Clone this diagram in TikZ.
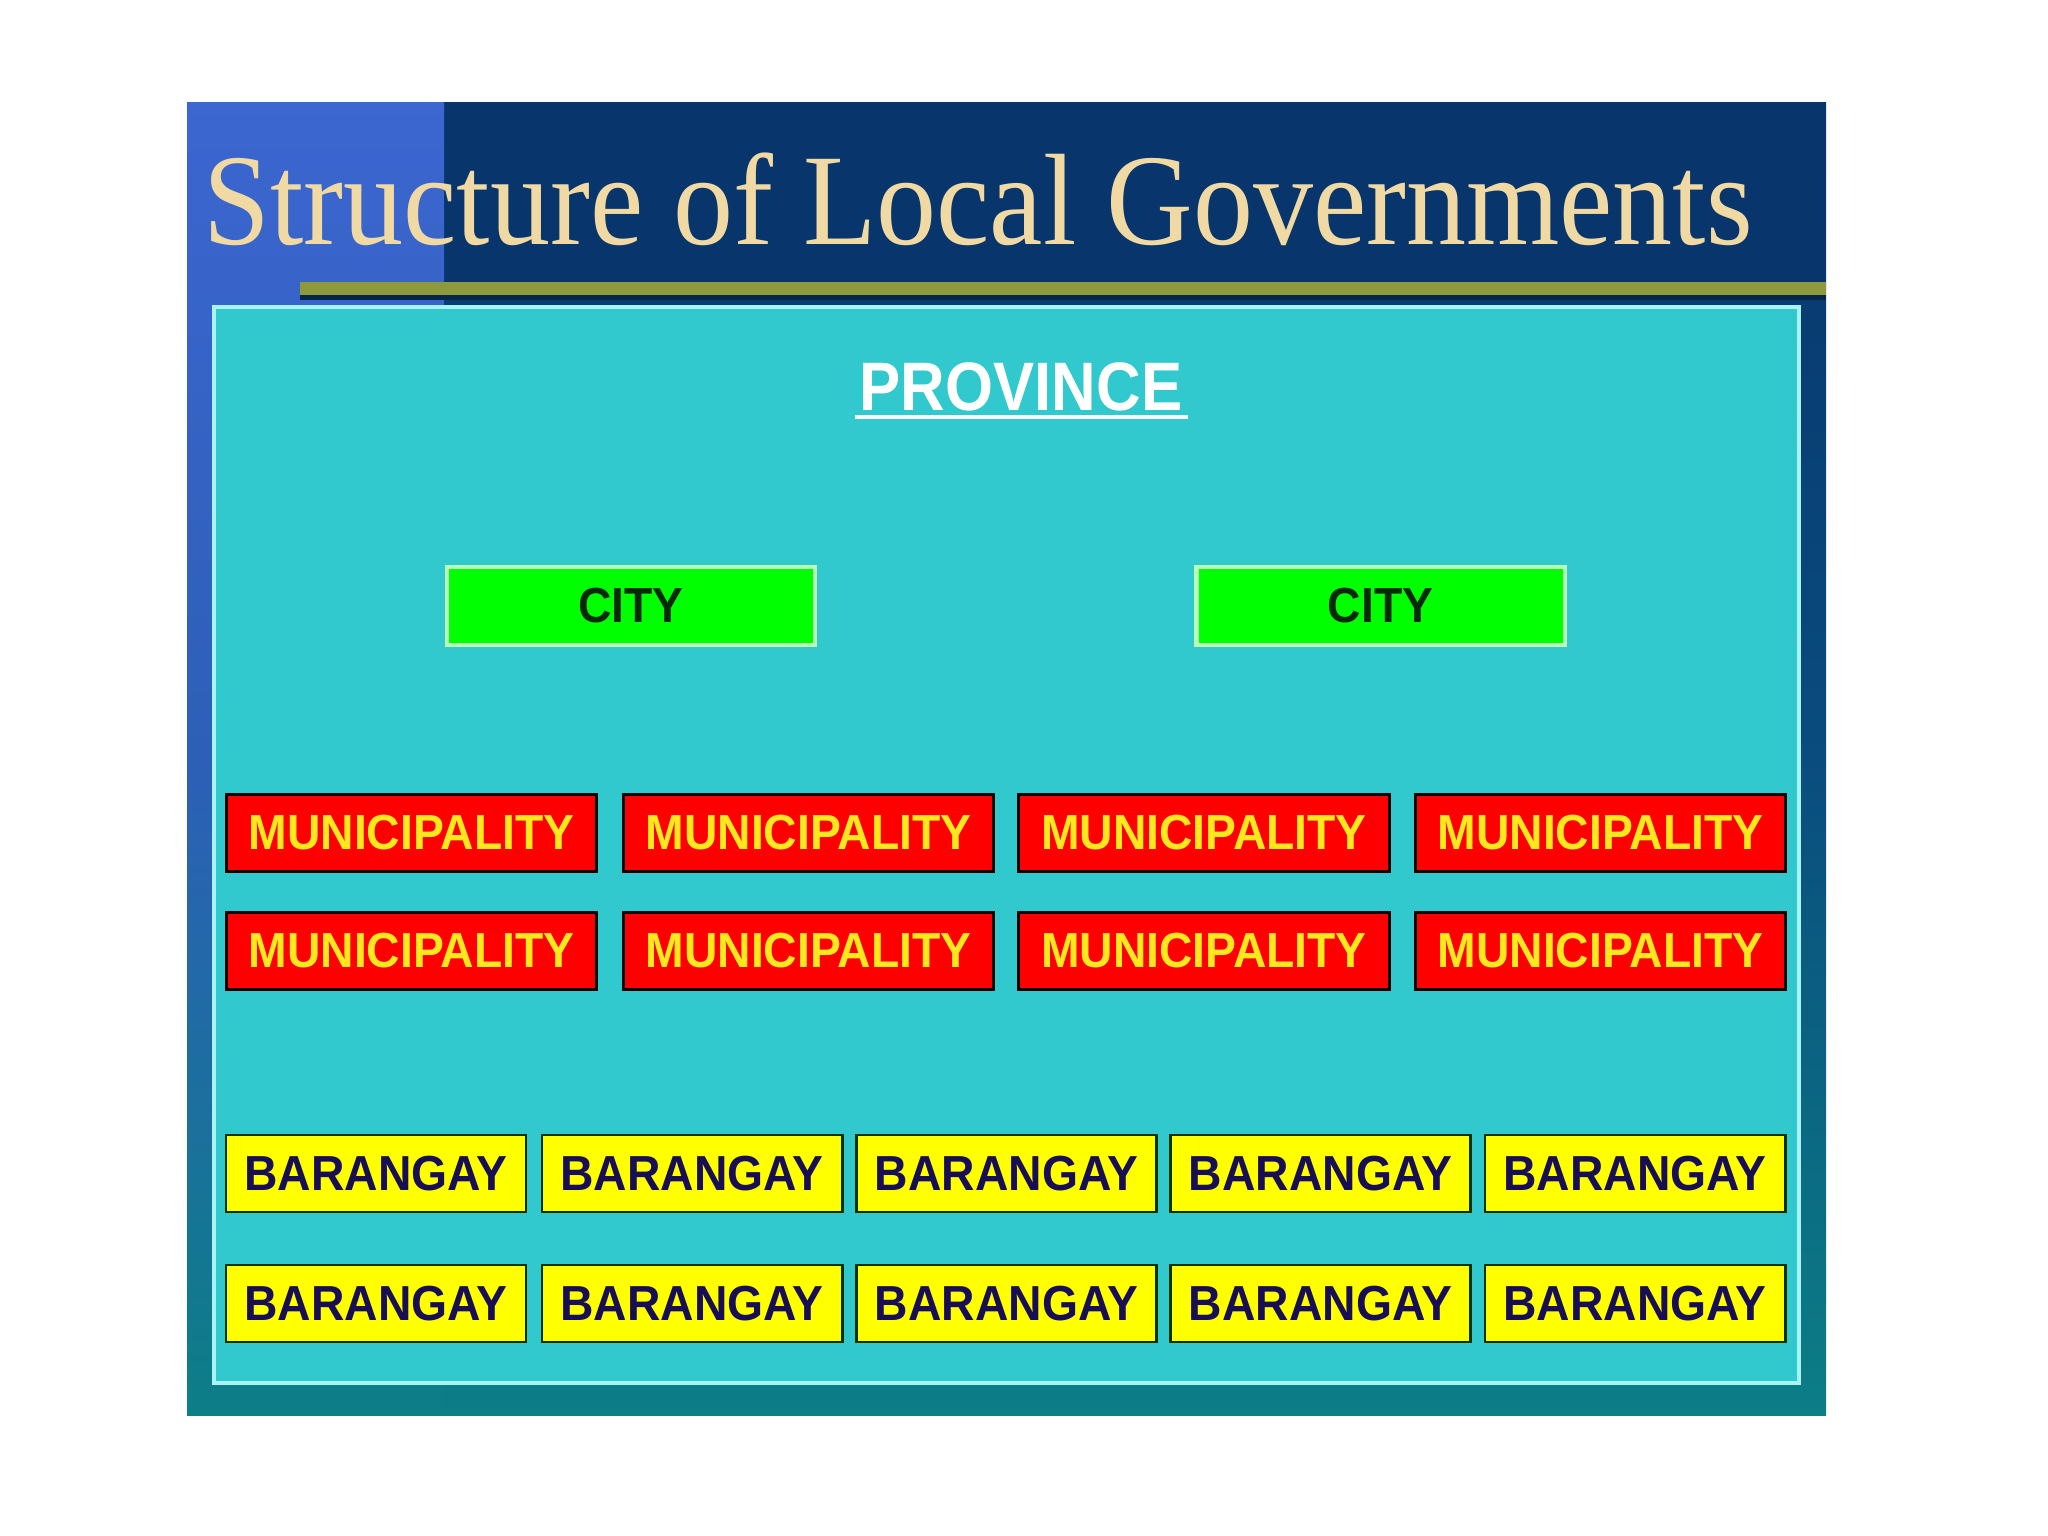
\documentclass[tikz,border=0pt]{standalone}
\usepackage{graphicx}
\usepackage{fontspec}
\setmainfont{Liberation Serif}
\setsansfont{Liberation Sans}
\definecolor{navy}{HTML}{07356C}
\definecolor{navymid}{HTML}{0A4C7E}
\definecolor{tealbot}{HTML}{0C7E86}
\definecolor{bandtop}{HTML}{3C66D0}
\definecolor{bandmid}{HTML}{2D5FB8}
\definecolor{olive}{HTML}{8E993E}
\definecolor{cyanfill}{HTML}{31C9CD}
\definecolor{cyanedge}{HTML}{A8F4F4}
\definecolor{titletan}{HTML}{F0D9A2}
\definecolor{citygreen}{HTML}{00FF00}
\definecolor{cityedge}{HTML}{B8FFB8}
\definecolor{citytext}{HTML}{062A06}
\definecolor{munred}{HTML}{FF0000}
\definecolor{munyellow}{HTML}{FFE81E}
\definecolor{baryellow}{HTML}{FFFF00}
\definecolor{bartext}{HTML}{170E55}
\newcommand{\narrowtxt}[1]{\scalebox{0.94}[1]{#1}}
\tikzset{
  boxtext/.style={font=\sffamily\bfseries\fontsize{14}{16}\selectfont, inner sep=0pt, align=center},
  citybox/.style={boxtext, fill=citygreen, draw=cityedge, line width=1.2pt, minimum width=3.68cm, minimum height=0.78cm, text=citytext},
  munbox/.style={boxtext, fill=munred, draw=black, line width=0.8pt, minimum width=3.70cm, minimum height=0.77cm, text=munyellow},
  barbox/.style={boxtext, fill=baryellow, draw=black!80!green, line width=0.8pt, minimum width=3.00cm, minimum height=0.77cm, text=bartext}
}
\begin{document}
\begin{tikzpicture}[x=0.01cm,y=-0.01cm]
\useasboundingbox (0,0) rectangle (2048,1536);
\fill[white] (0,0) rectangle (2048,1536);
% slide background
\shade[top color=navy, bottom color=tealbot, middle color=navymid] (187,102) rectangle (1826,1415);
\fill[navy] (187,102) rectangle (1826,300);
\shade[top color=bandtop, bottom color=tealbot, middle color=bandmid] (187,102) rectangle (444,1415);
% olive rule
\fill[olive] (300,282) rectangle (1826,295);
\fill[navy!70!black] (300,295) rectangle (1826,300);
% title
\node[anchor=base west, inner sep=0pt, text=titletan, font=\fontsize{37}{40}\selectfont] (title) at (203,244) {\scalebox{0.922}[1]{Structure of Local Governments}};
% cyan panel
\fill[cyanfill] (213,306) rectangle (1800,1384);
\draw[cyanedge, line width=1.2pt] (214,307) rectangle (1799,1383);
% province
\node[anchor=base, inner sep=0pt, text=white, font=\sffamily\bfseries\fontsize{19.5}{22}\selectfont] (province) at (1021,410) {\scalebox{0.9}[1]{PROVINCE}};
\draw[white, line width=1pt] (855,417) -- (1188,417);
% cities
\node[citybox] (city1) at (631,606) {\narrowtxt{CITY}};
\node[citybox] (city2) at (1380.5,606) {\narrowtxt{CITY}};
% municipalities
\node[munbox] (m11) at (411.5,833) {\narrowtxt{MUNICIPALITY}};
\node[munbox] (m12) at (808.5,833) {\narrowtxt{MUNICIPALITY}};
\node[munbox] (m13) at (1204,833) {\narrowtxt{MUNICIPALITY}};
\node[munbox] (m14) at (1600.5,833) {\narrowtxt{MUNICIPALITY}};
\node[munbox] (m21) at (411.5,951) {\narrowtxt{MUNICIPALITY}};
\node[munbox] (m22) at (808.5,951) {\narrowtxt{MUNICIPALITY}};
\node[munbox] (m23) at (1204,951) {\narrowtxt{MUNICIPALITY}};
\node[munbox] (m24) at (1600.5,951) {\narrowtxt{MUNICIPALITY}};
% barangays
\node[barbox] (b11) at (376,1173.5) {\narrowtxt{BARANGAY}};
\node[barbox] (b12) at (692,1173.5) {\narrowtxt{BARANGAY}};
\node[barbox] (b13) at (1006.5,1173.5) {\narrowtxt{BARANGAY}};
\node[barbox] (b14) at (1320.5,1173.5) {\narrowtxt{BARANGAY}};
\node[barbox] (b15) at (1635,1173.5) {\narrowtxt{BARANGAY}};
\node[barbox] (b21) at (376,1303.5) {\narrowtxt{BARANGAY}};
\node[barbox] (b22) at (692,1303.5) {\narrowtxt{BARANGAY}};
\node[barbox] (b23) at (1006.5,1303.5) {\narrowtxt{BARANGAY}};
\node[barbox] (b24) at (1320.5,1303.5) {\narrowtxt{BARANGAY}};
\node[barbox] (b25) at (1635,1303.5) {\narrowtxt{BARANGAY}};
\end{tikzpicture}
\end{document}
